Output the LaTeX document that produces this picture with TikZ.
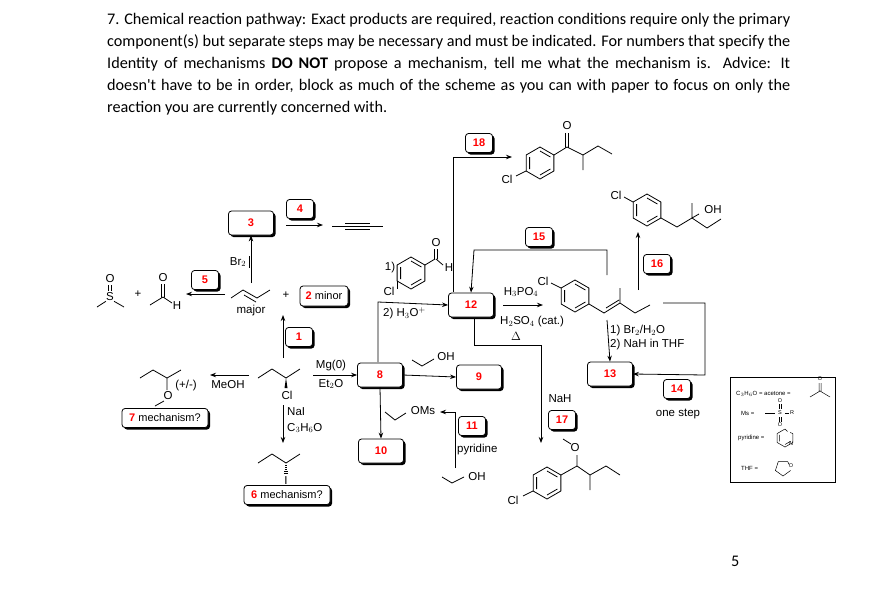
\documentclass[tikz,border=0pt]{standalone}
\usepackage{fontspec}
\setmainfont{Liberation Sans}
\newfontfamily\hdr{Carlito}
\usetikzlibrary{arrows.meta,shadows,calc}
\newcommand\benzring[1]{%
  \draw[bond,shift={(#1)}] (30:16)--(90:16)--(150:16)--(210:16)--(270:16)--(330:16)--cycle;
  \draw[bond,shift={(#1)}] (30:12)--(90:12) (150:12)--(210:12) (270:12)--(330:12);}
\begin{document}
\begin{tikzpicture}[x=1pt,y=-1pt,
  bond/.style={line width=0.8pt},
  arr/.style={line width=0.8pt,-{Stealth[length=6pt,width=4.5pt]}},
  lbl/.style={font=\fontsize{11.5}{12}\selectfont,inner sep=0pt},
  nbox/.style={draw,line width=0.8pt,rounded corners=3pt,fill=white,
     drop shadow={shadow xshift=2pt,shadow yshift=-2pt,fill=black,opacity=1},
     font=\fontsize{11}{12}\selectfont\bfseries,text=red,inner sep=0pt},
  big/.style={nbox,minimum width=45pt,minimum height=24pt},
  small/.style={nbox,minimum width=27pt,minimum height=19pt},
  lg/.style={font=\fontsize{6}{7}\selectfont,anchor=west,inner sep=0pt},
  lgs/.style={font=\fontsize{5.5}{6}\selectfont,inner sep=0pt},
  hl/.style={anchor=west,inner sep=0pt,font=\hdr\fontsize{16.2}{18}\selectfont}]
\useasboundingbox (0,0) rectangle (886,614);
% header
\node[hl] (h1) at (107,20) {\makebox[683pt][s]{7. Chemical reaction pathway: Exact products are required, reaction conditions require only the primary}};
\node[hl] (h2) at (107,42) {\makebox[683pt][s]{component(s) but separate steps may be necessary and must be indicated. For numbers that specify the}};
\node[hl] (h3) at (107,64) {\makebox[683pt][s]{Identity of mechanisms \textbf{DO NOT} propose a mechanism, tell me what the mechanism is. Advice: It}};
\node[hl] (h4) at (107,86) {\makebox[683pt][s]{doesn't have to be in order, block as much of the scheme as you can with paper to focus on only the}};
\node[hl] (h5) at (107,108) {reaction you are currently concerned with.};
\node[hl] (pg) at (731,561) {5};
% boxes
\node[big] (b3) at (251,223) {3};
\node[small] (b4) at (300,209) {4};
\node[small] (b5) at (205,280) {5};
\node[nbox,minimum width=48pt,minimum height=20pt] (b2) at (324,296) {2 \textcolor{black}{\mdseries minor}};
\node[small] (b1) at (299,337) {1};
\node[big] (b8) at (380,375) {8};
\node[big] (b9) at (479,377) {9};
\node[big] (b10) at (381,451) {10};
\node[small] (b11) at (472,426) {11};
\node[big] (b12) at (471,305) {12};
\node[big] (b13) at (610,374) {13};
\node[small] (b14) at (677,389) {14};
\node[small] (b15) at (539,237) {15};
\node[small] (b16) at (657,264) {16};
\node[small] (b17) at (562,420) {17};
\node[small] (b18) at (479,143) {18};
\node[nbox,minimum width=86pt,minimum height=19pt] (b6) at (287,495) {6 \textcolor{black}{\mdseries mechanism?}};
\node[nbox,minimum width=86pt,minimum height=19pt] (b7) at (165,418) {7 \textcolor{black}{\mdseries mechanism?}};
% DMSO + acetaldehyde
\node[lbl] (S) at (110,297) {S};
\node[lbl] (O1) at (110,279) {O};
\draw[bond] (108.5,291)--(108.5,285) (111.5,291)--(111.5,285);
\draw[bond] (S.south west)--(97,307) (S.south east)--(124,307);
\node[lbl] (plus1) at (138,294) {+};
\node[lbl] (O2) at (163,278) {O};
\draw[bond] (161.5,284)--(161.5,297) (164.5,284)--(164.5,297) (163,297)--(150,305) (163,297)--(172,303);
\node[lbl] (H1) at (177,306) {H};
% butene
\coordinate (ar5a) at (225,294); \coordinate (ar5b) at (186,294);
\draw[arr] (ar5a)--(ar5b);
\draw[bond] (231,298)--(243,290)--(257,298)--(270,290);
\draw[bond] (244,295)--(256,302);
\node[lbl] (major) at (251,311) {major};
\node[lbl] (plus2) at (286,295) {+};
\draw[arr] (251,283)--(b3.south);
\node[lbl] (br2) at (238,262) {Br$_2$};
\draw[bond] (249,256)--(249,268);
\coordinate (a4a) at (286,225); \coordinate (a4b) at (323,225);
\draw[arr] (a4a)--(a4b);
\draw[bond] (332,226)--(383,226) (345,223)--(370,223) (345,229)--(370,229);
% 2-chlorobutane
\draw[bond] (258,378)--(272,369)--(286,378)--(300,369);
\fill (286,378)--(284.5,388)--(287.5,388)--cycle;
\node[lbl] (Cl1) at (287,395) {Cl};
\draw[arr] (283,358)--(283,315);
\draw[arr] (249,375)--(210,375);
\node[lbl] (meoh) at (228,385) {MeOH};
% ether 7
\draw[bond] (140,378)--(153,370)--(167,378)--(181,370) (167,378)--(167,390) (164,401)--(155,406);
\node[lbl] (O3) at (168,396) {O};
\node[lbl] (pm) at (186,386) {(+/-)};
% NaI
\draw[arr] (283,405)--(283,443);
\node[lbl,anchor=west] (nai) at (287,412) {NaI};
\node[lbl,anchor=west] (c3) at (287,428) {C$_3$H$_6$O};
\draw[bond] (258,463)--(272,454)--(286,463)--(300,454);
\foreach \i in {0,...,4} \draw[line width=0.6pt] ({286-0.4*\i-0.6},{465+2*\i})--({286+0.4*\i+0.6},{465+2*\i});
\node[lbl] (I1) at (286,481) {I};
% Mg
\draw[arr] (313,375)--(b8.west);
\node[lbl] (mg) at (331,366) {Mg(0)};
\node[lbl] (et) at (331,384) {Et$_2$O};
% 8 -> 12
\coordinate (c8a) at (378,362);
\draw[arr] (c8a)--(378,302)--(b12.west);
\node[lbl] (one) at (390,268) {1)};
\benzring{411,273}
\draw[bond] (425,265)--(435,259) (434.5,259)--(434.5,249) (437.5,259)--(437.5,249) (436,259)--(443,265);
\node[lbl] (O4) at (436,243) {O};
\node[lbl] (H2) at (449,268) {H};
\node[lbl] (Cl2) at (389,291) {Cl};
\draw[bond] (397,289)--(397,281);
\node[lbl,anchor=west] (h3o) at (383,313) {2) H$_3$O$^+$};
% 8 -> 9
\draw[arr] (b8.east)--(b9.west);
\draw[bond] (412,360)--(422,366)--(434,359);
\node[lbl] (OH1) at (446,357) {OH};
% 8 -> 10
\draw[arr] (b8.south)--(b10.north);
\draw[bond] (385,412)--(395,420)--(406,413);
\node[lbl] (oms) at (423,411) {OMs};
\draw[arr] (455,468)--(455,412)--(440,412);
\node[lbl,anchor=west] (pyr) at (457,450) {pyridine};
\draw[bond] (442,477)--(452,483)--(464,477);
\node[lbl] (OH2) at (477,477) {OH};
% 12 -> 18
\draw[arr] (453,292)--(453,157)--(512,157);
\benzring{540,163}
\node[lbl] (Cl3) at (507,179) {Cl};
\draw[bond] (526,171)--(516,176) (554,155)--(567,147) (565.5,147)--(565.5,133) (568.5,147)--(568.5,133) (567,147)--(583,155)--(583,170) (583,155)--(598,146)--(612,154);
\node[lbl] (O5) at (567,126) {O};
% 15
\draw[arr] (607,275)--(607,250)--(474,250)--(b12.north);
% 12 -> alkene
\draw[arr] (503,305)--(543,305);
\node[lbl] (h3po) at (521,292) {H$_3$PO$_4$};
\node[lbl,anchor=west] (h2so) at (500,322) {H$_2$SO$_4$ (cat.)};
\node[lbl] (delta) at (516,336) {\itshape\(\Delta\)};
\benzring{575,296}
\node[lbl] (Cl4) at (543,281) {Cl};
\draw[bond] (561,288)--(551,283) (589,304)--(604,313)--(620,303)--(620,288) (606,308)--(619,300) (620,303)--(635,313)--(650,305);
% 12 -> 17
\draw[arr] (474,318)--(474,345)--(541,345)--(541,443);
\node[lbl] (nah) at (560,399) {NaH};
\benzring{547,483}
\node[lbl] (Cl5) at (513,500) {Cl};
\draw[bond] (533,491)--(523,496) (561,475)--(577,466)--(590,475)--(590,490) (590,475)--(606,466)--(620,475) (577,466)--(577,455) (571,444)--(563,439);
\node[lbl] (O6) at (575,448) {O};
% alkene -> 13
\draw[arr] (607,320)--(b13.north);
\node[lbl,anchor=west] (br2h) at (610,331) {1) Br$_2$/H$_2$O};
\node[lbl,anchor=west] (nahthf) at (610,345) {2) NaH in THF};
\draw[arr] (663,303)--(705,303)--(705,375)--(b13.east);
\node[lbl] (onestep) at (678,414) {one step};
% 16
\draw[arr] (638,290)--(638,232);
\benzring{647,210}
\node[lbl] (Cl6) at (616,195) {Cl};
\draw[bond] (633,202)--(624,197) (661,218)--(677,227)--(692,218)--(692,203) (692,218)--(707,228)--(721,219) (692,218)--(699,214);
\node[lbl] (OH3) at (713,210) {OH};
% legend
\draw[line width=0.6pt] (730,377) rectangle (835,482);
\node[lg] (lg1) at (736,394) {C$_3$H$_6$O = acetone =};
\draw[line width=0.5pt] (810,397)--(820,391)--(830,397) (819,391)--(819,383) (821,391)--(821,383);
\node[lgs] (lgO) at (820,379) {O};
\node[lg] (lg2) at (741,413) {Ms =};
\draw[line width=0.5pt] (765,413)--(775,413) (785,413)--(789,413) (779,404)--(779,409) (781,404)--(781,409) (779,417)--(779,422) (781,417)--(781,422);
\node[lgs] (lgS) at (780,413) {S};
\node[lgs] (lgR) at (792,413) {R};
\node[lgs] (lgO2) at (780,401) {O};
\node[lgs] (lgO3) at (780,425) {O};
\node[lg] (lg3) at (738,438) {pyridine =};
\draw[line width=0.5pt,shift={(785,438)}] (270:9)--(210:9)--(150:9)--(90:9)--(30:9)--(330:9) (30:6.5)--(90:6.5) (150:6.5)--(210:6.5) (270:9)--(292:7) (330:9)--(313:7.5);
\node[lgs] (lgN) at (791,444) {N};
\node[lg] (lg4) at (741,468) {THF =};
\draw[line width=0.5pt,shift={(783,468)}] (18:8)--(90:8)--(162:8)--(234:8)--(306:8)--(330:7);
\node[lgs] (lgO4) at (791,466) {O};
\end{tikzpicture}
\end{document}
